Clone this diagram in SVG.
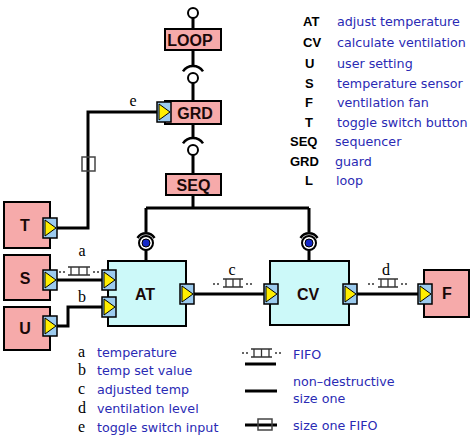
<svg xmlns="http://www.w3.org/2000/svg" width="474" height="437" viewBox="0 0 474 437">
<style>
.pink{fill:#f6aaaa;stroke:#000;stroke-width:2}
.cyan{fill:#ccf9f9;stroke:#000;stroke-width:2}
.lbl{font-family:"Liberation Sans",Arial,sans-serif;font-weight:bold;font-size:16px;fill:#1a0808;text-anchor:middle}
.conn{fill:none;stroke:#000;stroke-width:3}
.sock{fill:#fff;stroke:#000;stroke-width:2}
.arc{fill:none;stroke:#000;stroke-width:2.5}
.fifo{fill:none;stroke:#333;stroke-width:1.3}
.dot{fill:#333}
.sq{fill:none;stroke:#444;stroke-width:1.5}
.abbr{font-family:"Liberation Sans",Arial,sans-serif;font-weight:bold;font-size:13px;fill:#000}
.desc{font-family:"DejaVu Sans","Liberation Sans",sans-serif;font-size:12.7px;fill:#2a2ab4}
.let{font-family:"Liberation Serif","Times New Roman",serif;font-size:16px;fill:#000}
</style>
<defs>
<g id="port">
<rect x="0" y="0" width="14" height="20" fill="#9ccbee" stroke="#000" stroke-width="1.5"/>
<polygon points="2,2 2,18 13,10" fill="#ffee00" stroke="#000" stroke-width="1"/>
</g>
</defs>

<g id="connectors">
<path class="conn" d="M57,228 H88 V112 H157"/>
<path class="conn" d="M57,280 H102"/>
<path class="conn" d="M57,326 H68 V307 H102"/>
<path class="conn" d="M194,294 H264"/>
<path class="conn" d="M357,294 H418"/>
<path class="conn" d="M193,18 V29 M193,50 V65 M193,83 V101 M193,124 V137 M193,155 V174 M193,195 V208 M146,208 H309 M146,208 V232 M309,208 V232 M146,250 V261 M309,250 V261"/>
<circle class="sock" cx="193" cy="13" r="5"/>
<path class="arc" d="M183,71.4 A12,12 0 0 1 203,71.4"/>
<circle class="sock" cx="193" cy="78" r="5"/>
<path class="arc" d="M183,143.4 A12,12 0 0 1 203,143.4"/>
<circle class="sock" cx="193" cy="150" r="5"/>
<path class="arc" d="M137.5,238 A10,10 0 0 1 154.5,238"/>
<circle cx="146" cy="243" r="7" fill="#fff" stroke="#000" stroke-width="2"/>
<circle cx="146" cy="243" r="4" fill="#1428c8" stroke="#000" stroke-width="1"/>
<path class="arc" d="M300.5,238 A10,10 0 0 1 317.5,238"/>
<circle cx="309" cy="243" r="7" fill="#fff" stroke="#000" stroke-width="2"/>
<circle cx="309" cy="243" r="4" fill="#1428c8" stroke="#000" stroke-width="1"/>
<rect class="sq" x="82" y="157" width="13" height="14"/>
<path class="fifo" d="M68,267 H90 M68,275 H90 M71,267 V275 M79,267 V275 M87,267 V275"/>
<circle class="dot" cx="60" cy="272" r="1"/><circle class="dot" cx="64" cy="272" r="1"/>
<circle class="dot" cx="94" cy="272" r="1"/><circle class="dot" cx="98" cy="272" r="1"/>
<path class="fifo" d="M223,279 H243 M223,287 H243 M226,279 V287 M233,279 V287 M240,279 V287"/>
<circle class="dot" cx="214" cy="284" r="1"/><circle class="dot" cx="218" cy="284" r="1"/>
<circle class="dot" cx="247" cy="284" r="1"/><circle class="dot" cx="251" cy="284" r="1"/>
<path class="fifo" d="M378,279 H398 M378,287 H398 M381,279 V287 M388,279 V287 M395,279 V287"/>
<circle class="dot" cx="369" cy="284" r="1"/><circle class="dot" cx="373" cy="284" r="1"/>
<circle class="dot" cx="402" cy="284" r="1"/><circle class="dot" cx="406" cy="284" r="1"/>
<text class="let" x="82" y="256" text-anchor="middle">a</text>
<text class="let" x="82" y="302" text-anchor="middle">b</text>
<text class="let" x="232" y="275" text-anchor="middle">c</text>
<text class="let" x="386" y="275" text-anchor="middle">d</text>
<text class="let" x="133" y="106" text-anchor="middle">e</text>
</g>

<g id="LOOP"><rect class="pink" x="165" y="29" width="56" height="21"/><text class="lbl" x="190" y="46">LOOP</text></g>
<g id="GRD"><rect class="pink" x="165" y="101" width="56" height="23"/><use href="#port" x="157" y="102"/><text class="lbl" x="195" y="119">GRD</text></g>
<g id="SEQ"><rect class="pink" x="166" y="174" width="55" height="21"/><text class="lbl" x="193.5" y="191">SEQ</text></g>
<g id="T"><rect class="pink" x="4" y="202" width="46" height="46"/><use href="#port" x="43" y="218"/><text class="lbl" x="25" y="231">T</text></g>
<g id="S"><rect class="pink" x="4" y="255" width="46" height="45"/><use href="#port" x="43" y="270"/><text class="lbl" x="25" y="284">S</text></g>
<g id="U"><rect class="pink" x="4" y="307" width="46" height="43"/><use href="#port" x="43" y="316"/><text class="lbl" x="25" y="334">U</text></g>
<g id="AT"><rect class="cyan" x="108" y="261" width="78" height="65"/><use href="#port" x="102" y="270"/><use href="#port" x="102" y="297"/><use href="#port" x="180" y="284"/><text class="lbl" x="145" y="300">AT</text></g>
<g id="CV"><rect class="cyan" x="270" y="261" width="79" height="64"/><use href="#port" x="264" y="284"/><use href="#port" x="343" y="284"/><text class="lbl" x="308" y="300">CV</text></g>
<g id="F"><rect class="pink" x="424" y="270" width="45" height="47"/><use href="#port" x="418" y="284"/><text class="lbl" x="447" y="299">F</text></g>

<g id="legend-abbr">
<text class="abbr" x="303" y="26">AT</text><text class="desc" x="337" y="26">adjust temperature</text>
<text class="abbr" x="303" y="47">CV</text><text class="desc" x="337" y="47">calculate ventilation</text>
<text class="abbr" x="305" y="68">U</text><text class="desc" x="337" y="68">user setting</text>
<text class="abbr" x="305" y="88">S</text><text class="desc" x="337" y="88">temperature sensor</text>
<text class="abbr" x="305" y="107">F</text><text class="desc" x="337" y="107">ventilation fan</text>
<text class="abbr" x="305" y="127">T</text><text class="desc" x="337" y="127">toggle switch button</text>
<text class="abbr" x="290" y="146">SEQ</text><text class="desc" x="335" y="146">sequencer</text>
<text class="abbr" x="290" y="166">GRD</text><text class="desc" x="335" y="166">guard</text>
<text class="abbr" x="305" y="185">L</text><text class="desc" x="336" y="185">loop</text>
</g>

<g id="legend-data">
<text class="let" x="78" y="357">a</text><text class="desc" x="97" y="357">temperature</text>
<text class="let" x="78" y="375">b</text><text class="desc" x="97" y="375">temp set value</text>
<text class="let" x="78" y="394">c</text><text class="desc" x="97" y="394">adjusted temp</text>
<text class="let" x="78" y="413">d</text><text class="desc" x="97" y="413">ventilation level</text>
<text class="let" x="78" y="432">e</text><text class="desc" x="97" y="432">toggle switch input</text>
</g>

<g id="legend-lines">
<path class="fifo" d="M251,349 H272 M251,357 H272 M254,349 V357 M261.5,349 V357 M269,349 V357"/>
<circle class="dot" cx="243" cy="353" r="1"/><circle class="dot" cx="247" cy="353" r="1"/>
<circle class="dot" cx="276" cy="353" r="1"/><circle class="dot" cx="280" cy="353" r="1"/>
<path class="conn" d="M245,364 H276"/>
<text class="desc" x="293" y="359">FIFO</text>
<path class="conn" d="M245,391 H277"/>
<text class="desc" x="293" y="386">non–destructive</text>
<text class="desc" x="293" y="403">size one</text>
<path class="conn" d="M245,425 H277"/>
<rect class="sq" x="258" y="419" width="14" height="11"/>
<text class="desc" x="293" y="430">size one FIFO</text>
</g>
</svg>
